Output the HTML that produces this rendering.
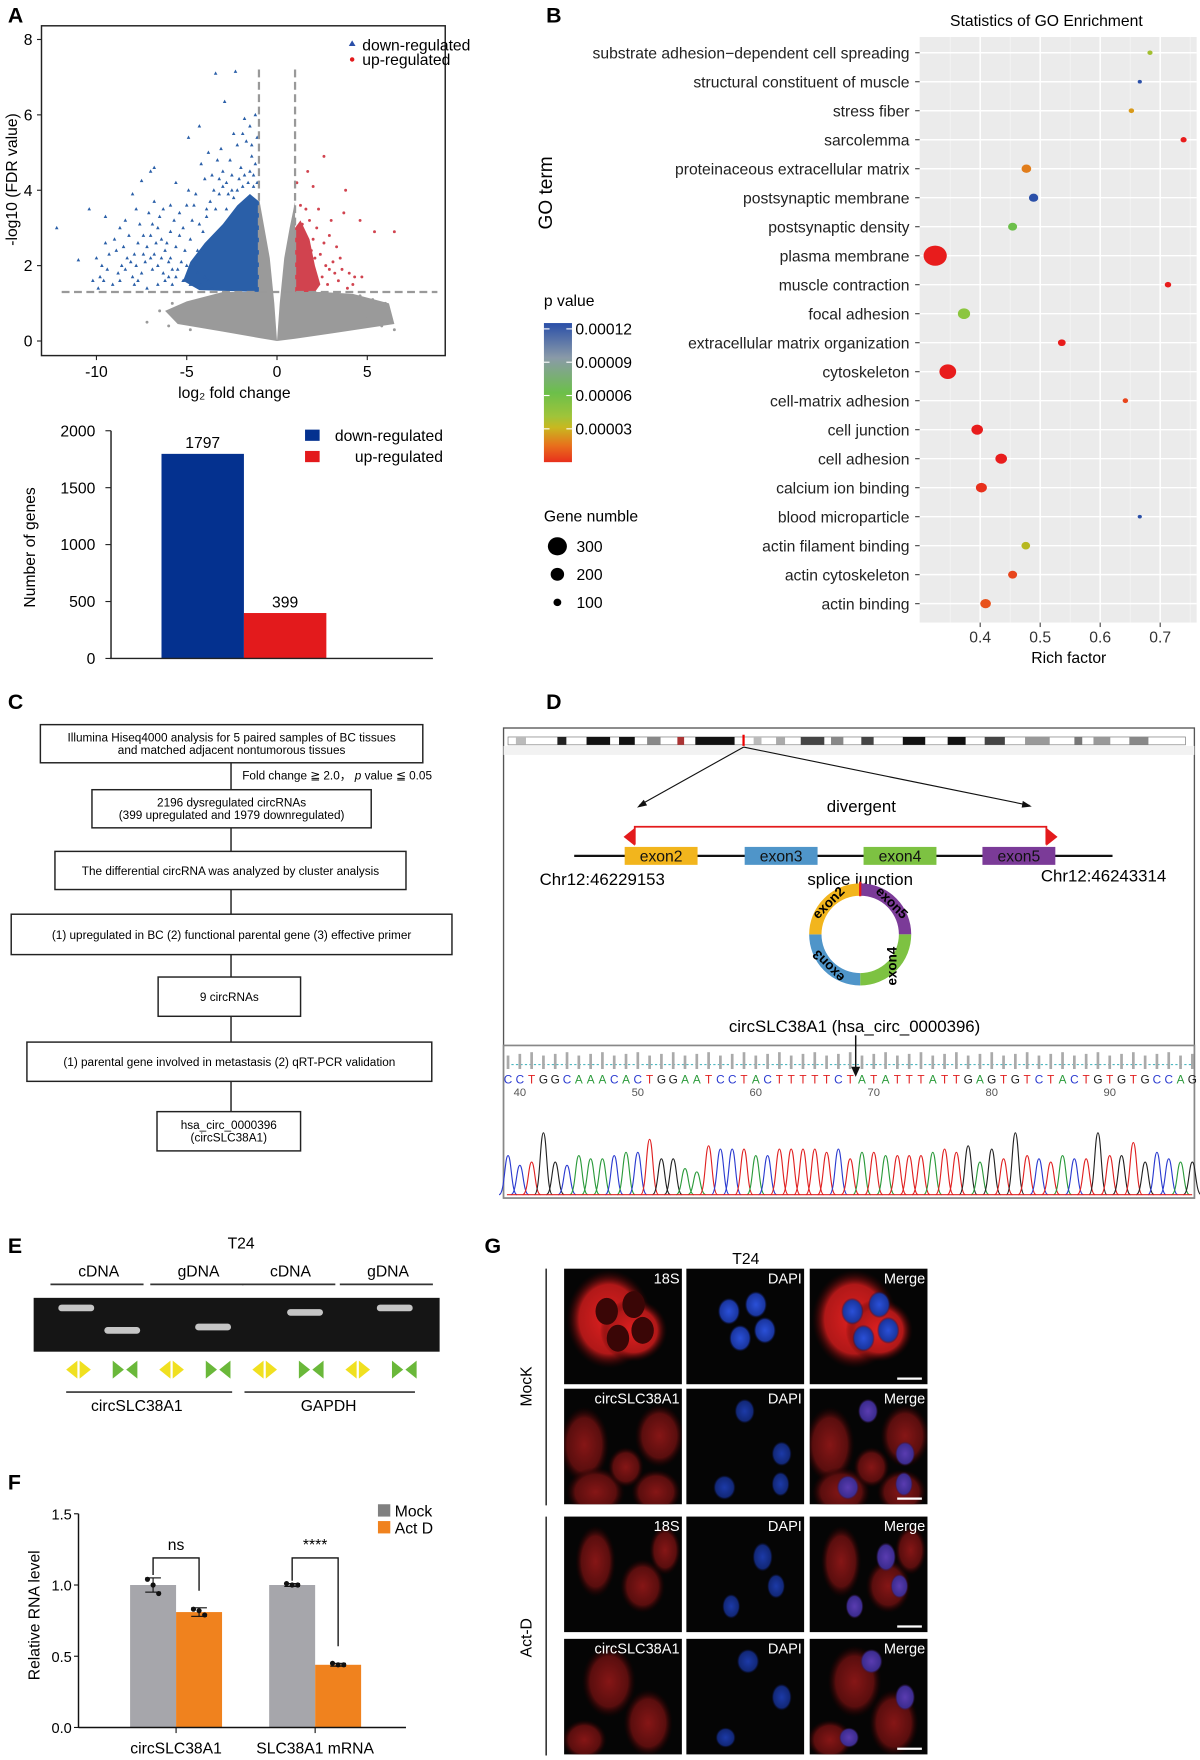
<!DOCTYPE html>
<html><head><meta charset="utf-8"><title>circSLC38A1 figure</title>
<style>
html,body{margin:0;padding:0;background:#fff;}
svg{display:block;font-family:"Liberation Sans",Arial,sans-serif;}
</style></head>
<body>
<svg id="fig" xmlns="http://www.w3.org/2000/svg" width="1200" height="1760" viewBox="0 0 1070 1569" preserveAspectRatio="none">
<defs>
<linearGradient id="pgrad" x1="0" y1="0" x2="0" y2="1">
<stop offset="0" stop-color="#2a4fa8"/><stop offset="0.25" stop-color="#8a9aa8"/><stop offset="0.5" stop-color="#6cbf4a"/><stop offset="0.67" stop-color="#9fc43a"/><stop offset="0.75" stop-color="#c8b820"/><stop offset="0.88" stop-color="#e8701c"/><stop offset="1" stop-color="#e8301c"/>
</linearGradient>
<radialGradient id="redcell"><stop offset="0" stop-color="#e02020"/><stop offset="0.7" stop-color="#b01818"/><stop offset="1" stop-color="#300000" stop-opacity="0"/></radialGradient>
<radialGradient id="dimcell"><stop offset="0" stop-color="#861616"/><stop offset="0.7" stop-color="#5a0e0e"/><stop offset="1" stop-color="#200000" stop-opacity="0"/></radialGradient>
<radialGradient id="bluenuc"><stop offset="0" stop-color="#2a50d8"/><stop offset="0.8" stop-color="#1a36a0"/><stop offset="1" stop-color="#0a1040" stop-opacity="0"/></radialGradient>
<radialGradient id="dimnuc"><stop offset="0" stop-color="#1c3aa8"/><stop offset="0.8" stop-color="#122878"/><stop offset="1" stop-color="#0a1040" stop-opacity="0"/></radialGradient>
<radialGradient id="mergenuc"><stop offset="0" stop-color="#5a3cb0"/><stop offset="0.8" stop-color="#3c2c90"/><stop offset="1" stop-color="#301040" stop-opacity="0"/></radialGradient>
</defs>

<g font-weight="bold" font-size="19">
<text x="7" y="20">A</text>
<text x="487" y="20">B</text>
<text x="7" y="632">C</text>
<text x="487" y="632">D</text>
<text x="7" y="1117">E</text>
<text x="7" y="1328">F</text>
<text x="432" y="1117">G</text>
</g>

<g id="volcano"></g>
<g id="bars"></g>
<g id="go"></g>
<g id="flow"></g>
<g id="diag"></g>
<g id="gel"></g>
<g id="rna"></g>
<g id="fish"></g>
</svg>

<script>
// ===== Panel A volcano data =====
const volcanoXTicks = [-10, -5, 0, 5];
const volcanoYTicks = [0, 2, 4, 6, 8];
const downPoints = [[-12.2,3.0],[-10.4,3.5],[-9.5,3.3],[-11,2.15],[-10,2.2],[-8.7,3.0],[-8,3.9],[-7.5,4.25],[-7,4.5],[-6.8,4.6],[-6.8,3.7],[-5.6,4.2],[-4.9,5.4],[-4.3,5.7],[-2.9,6.35],[-3.4,7.1],[-2.3,7.15],[-1.8,5.9],[-1.2,6.0],[-1.1,5.4],[-1.7,5.3],[-1.5,5.7],[-3.3,4.8],[-5.0,3.6],[-4.6,3.6],[-3.9,3.5],[-9.8,1.7],[-9.6,1.6],[-8.4,1.9],[-7.7,1.6],[-7.2,2.5],[-6.4,2.7],[-6,2.1],[-5.4,2.8],[-4.9,1.7],[-7.9,2.3],[-8.2,2.8],[-9.3,2.3],[-6.6,1.5],[-5.8,1.5],[-7.4,2.8],[-7.0,2.2],[-6.9,1.9],[-8.9,2.4],[-9.1,1.5],[-6.2,2.4],[-5.7,3.2],[-5.2,3.0],[-4.5,3.9],[-4.0,4.3],[-3.6,4.4],[-2.6,4.8],[-2.2,5.2],[-1.4,4.9],[-2.5,4.4],[-3.0,4.1],[-6.5,3.3],[-7.6,3.1],[-8.6,2.0],[-9.9,1.4],[-7.2,1.4],[-6.0,1.7],[-5.5,1.9],[-8.0,1.7],[-4.2,1.5],[-3.8,1.6],[-6.7,2.6],[-5.9,2.9],[-3.2,3.9],[-2.0,4.6],[-1.3,4.4],[-2.8,3.5],[-4.7,3.2],[-4.4,2.4],[-7.1,3.4],[-8.3,2.2],[-9.0,2.7],
[-7.8,2.0],[-7.5,1.8],[-7.3,2.1],[-6.8,2.3],[-6.6,2.0],[-6.3,1.8],[-6.1,2.6],[-5.9,2.2],[-5.6,2.5],[-5.3,2.1],[-5.1,2.4],[-4.8,2.7],[-4.6,2.0],[-4.3,3.1],[-4.1,2.9],[-3.9,3.3],[-3.7,3.7],[-3.5,4.0],[-3.4,3.5],[-3.2,4.3],[-3.0,4.5],[-2.8,4.2],[-2.7,3.9],[-2.5,4.0],[-2.4,3.8],[-2.2,4.0],[-2.1,4.3],[-1.9,4.1],[-1.8,4.4],[-1.6,4.2],[-1.5,4.5],[-1.3,4.1],[-1.2,4.7],[-1.1,4.2],[-8.8,1.8],[-8.5,2.5],[-8.1,2.1],[-7.7,2.6],[-7.4,2.3],[-7.0,2.8],[-6.6,3.0],[-6.4,2.2],[-6.2,1.6],[-5.8,1.9],[-5.6,1.7],[-5.2,1.6],[-5.0,2.0],[-4.8,1.5],[-4.4,1.8],[-4.0,1.7],[-3.6,1.4],[-7.9,1.5],[-8.7,1.6],[-9.4,1.9],[-9.7,2.0],[-10.2,1.6],[-9.5,2.6],[-8.4,3.2],[-7.8,3.5],[-6.9,3.1],[-6.3,3.5],[-5.9,3.6],[-5.4,3.4],[-4.9,4.0],[-4.2,4.7],[-3.8,5.0],[-3.1,5.1],[-2.4,5.5],[-1.9,5.5],[-1.4,5.2]];
const upPoints = [[1.1,4.2],[1.7,4.5],[2,4.1],[2.6,4.9],[3.8,4.0],[3.7,3.4],[4.6,3.2],[5.4,2.9],[6.5,2.9],[3.0,3.2],[2.3,3.5],[1.6,3.5],[1.3,3.6],[2.6,2.6],[3.5,2.2],[4.0,1.8],[4.3,1.7],[4.7,1.7],[3.4,1.6],[2.9,1.9],[2.1,2.2],[2.5,1.7],[1.5,2.7],[1.9,2.4],[3.1,2.1],[2.8,1.5],[4.2,1.5],[3.9,1.4],[2.2,3.0],[1.8,3.2],[2.4,2.3],[2.7,2.0],[3.2,1.8],[3.6,1.9],[2.0,2.7],[1.4,3.1],[3.3,2.5],[2.9,2.8]];
const nsPoints = [[-7.2,0.5],[-6.5,0.8],[-5.8,1.0],[-5.2,0.6],[-4.4,0.9],[-3.6,1.1],[-2.8,0.8],[-4.8,0.3],[-6.0,0.4],[-3.2,0.4],[2.6,1.0],[3.2,0.8],[3.8,1.1],[4.4,0.9],[5.0,0.6],[5.6,0.7],[6.2,0.5],[6.5,0.3],[5.8,0.4],[4.6,1.2],[3.5,0.4],[2.9,0.3],[5.3,1.1],[6.0,1.0]];
const downDense = [[-1,1.3],[-1,3.7],[-1.5,3.9],[-2.2,3.6],[-3.0,3.1],[-4,2.6],[-4.8,2.1],[-5.2,1.6],[-4.3,1.35]];
const upDense = [[1,1.3],[1,3.0],[1.3,3.2],[1.8,2.7],[2.1,2.0],[2.4,1.5],[2.1,1.3]];
const nsLeft = [[0,0],[-0.15,1],[-0.4,2.2],[-0.7,3.0],[-1,3.8],[-1,1.3],[-3,1.3],[-5,1.05],[-6.2,0.8],[-5.5,0.45],[-3,0.25],[-1,0.08]];
const nsRight = [[0,0],[0.15,1],[0.4,2.2],[0.7,3.0],[1,3.7],[1,1.3],[2.5,1.3],[4.2,1.25],[6.2,1.0],[6.5,0.45],[3,0.2],[1,0.06]];
const fdrCut = 1.3, fcCut = 1;

// ===== Panel A bar data =====
const degCategories = ['down-regulated', 'up-regulated'];
const degCounts = [1797, 399];
const degColors = ['#04318f', '#e31a1c'];
const degTicks = [0, 500, 1000, 1500, 2000];

// ===== Panel B GO data =====
const goTerms = ['substrate adhesion\u2212dependent cell spreading','structural constituent of muscle','stress fiber','sarcolemma','proteinaceous extracellular matrix','postsynaptic membrane','postsynaptic density','plasma membrane','muscle contraction','focal adhesion','extracellular matrix organization','cytoskeleton','cell-matrix adhesion','cell junction','cell adhesion','calcium ion binding','blood microparticle','actin filament binding','actin cytoskeleton','actin binding'];
const goRich = [0.683,0.666,0.652,0.739,0.477,0.489,0.454,0.325,0.713,0.373,0.536,0.346,0.642,0.395,0.435,0.402,0.666,0.476,0.454,0.409];
const goCount = [40,25,45,55,110,105,100,320,60,150,80,220,45,140,140,130,25,95,100,125];
const goPval = [0.00004,0.00012,0.00002,0,0.000015,0.00012,0.00006,0,0,0.00005,0,0,0.000006,0,0,0.000003,0.00012,0.00003,0.000006,0.000008];
const goXTicks = [0.4, 0.5, 0.6, 0.7];
const pTicks = [0.00012, 0.00009, 0.00006, 0.00003];
const sizeLegend = [300, 200, 100];

// ===== Panel D sequence data =====
const seqBases = 'CCTGGCAAACACTGGAATCCTACTTTTTCTATATTTATTGAGTGTCTACTGTGTGCCAG'.split('');
const peakHeights = [0.6,0.45,0.5,0.95,0.5,0.45,0.6,0.55,0.55,0.6,0.65,0.65,0.85,0.55,0.55,0.4,0.35,0.75,0.7,0.7,0.7,0.6,0.6,0.7,0.7,0.7,0.7,0.65,0.7,0.55,0.65,0.65,0.6,0.6,0.6,0.6,0.65,0.7,0.65,0.75,0.5,0.7,0.55,0.95,0.6,0.55,0.5,0.6,0.55,0.55,0.95,0.6,0.6,0.8,0.5,0.65,0.55,0.5,0.5];
const seqNumbers = [40,50,60,70,80,90];

// ===== Panel E gel data =====
const gelHeaders = ['cDNA','gDNA','cDNA','gDNA'];
const gelBandX = [68, 109, 190, 272, 352];
const gelBandY = [1166, 1186, 1183, 1170, 1166];
const primerPairs = ['div','conv','div','conv','div','conv','div','conv'];

// ===== Panel F data =====
const rnaGroups = ['circSLC38A1', 'SLC38A1 mRNA'];
const mockMeans = [1.0, 1.0];
const actdMeans = [0.81, 0.44];
const mockErr = [0.05, 0.01];
const actdErr = [0.03, 0.01];
const mockPts = [[1.04,1.0,0.94],[1.01,1.0,1.0]];
const actdPts = [[0.83,0.82,0.79],[0.45,0.44,0.44]];
const rnaTicks = [0.0, 0.5, 1.0, 1.5];
const sigLabels = ['ns', '****'];

// ===== Panel G labels =====
const fishCols = ['stain', 'DAPI', 'Merge'];
const fishRows = ['18S', 'circSLC38A1', '18S', 'circSLC38A1'];

const NS = 'http://www.w3.org/2000/svg';
function mk(tag, attrs, parent, txt) {
  const e = document.createElementNS(NS, tag);
  for (const k in attrs) e.setAttribute(k, attrs[k]);
  if (txt !== undefined) e.textContent = txt;
  parent.appendChild(e);
  return e;
}
function pts(arr, fx, fy) { return arr.map(p => fx(p[0]) + ',' + fy(p[1])).join(' '); }

// ---------- A volcano ----------
(function(){
  const g = document.getElementById('volcano');
  const vx = v => 247 + v * 16.1;
  const vy = v => 304 - v * 33.6;
  let el = mk('polygon', {points: pts(nsLeft, vx, vy), fill: '#9a9a9a'}, g);
   
  el = mk('polygon', {points: pts(nsRight, vx, vy), fill: '#9a9a9a'}, g);
   
  nsPoints.forEach(p => {
    const c = mk('circle', {cx: vx(p[0]), cy: vy(p[1]), r: 1.3, fill: '#9a9a9a'}, g);
    
    
  });
  el = mk('polygon', {points: pts(downDense, vx, vy), fill: '#2a5fa8'}, g);
   
  el = mk('polygon', {points: pts(upDense, vx, vy), fill: '#d1434f'}, g);
   
  downPoints.forEach(p => {
    const x = vx(p[0]), y = vy(p[1]);
    const t = mk('polygon', {points: `${x},${y-1.8} ${x-1.6},${y+1.2} ${x+1.6},${y+1.2}`, fill: '#2a5fa8'}, g);
    
    
  });
  upPoints.forEach(p => {
    const c = mk('circle', {cx: vx(p[0]), cy: vy(p[1]), r: 1.3, fill: '#d1434f'}, g);
    
    
  });
  const dash = {stroke: '#999', 'stroke-width': 2, 'stroke-dasharray': '7,4', fill: 'none'};
  el = mk('line', Object.assign({x1: vx(-fcCut), x2: vx(-fcCut), y1: 62, y2: vy(fdrCut)}, dash), g);
   
  el = mk('line', Object.assign({x1: vx(fcCut), x2: vx(fcCut), y1: 62, y2: vy(fdrCut)}, dash), g);
   
  el = mk('line', Object.assign({x1: 55, x2: 390, y1: vy(fdrCut), y2: vy(fdrCut)}, dash), g);
   
  el = mk('rect', {x: 37, y: 23, width: 360, height: 294, fill: 'none', stroke: '#222', 'stroke-width': 1.3}, g);
   
  volcanoXTicks.forEach(t => {
    mk('line', {x1: vx(t), x2: vx(t), y1: 317, y2: 321, stroke: '#222'}, g);
    const tx = mk('text', {x: vx(t), y: 336, 'font-size': 14, 'text-anchor': 'middle'}, g, String(t));
     
  });
  volcanoYTicks.forEach(t => {
    mk('line', {x1: 33, x2: 37, y1: vy(t), y2: vy(t), stroke: '#222'}, g);
    const tx = mk('text', {x: 29, y: vy(t) + 5, 'font-size': 14, 'text-anchor': 'end'}, g, String(t));
     
  });
  el = mk('text', {x: 209, y: 355, 'font-size': 14, 'text-anchor': 'middle'}, g, 'log\u2082 fold change');
   
  el = mk('text', {x: 0, y: 0, 'font-size': 14, 'text-anchor': 'middle', transform: 'translate(15,160) rotate(-90)'}, g, '-log10 (FDR value)');
   
  mk('polygon', {points: '314,36 311,41 317,41', fill: '#2a4fa8'}, g);
  el = mk('text', {x: 323, y: 45, 'font-size': 14}, g, 'down-regulated');
   
  mk('circle', {cx: 314, cy: 53, r: 2, fill: '#e31a1c'}, g);
  el = mk('text', {x: 323, y: 58, 'font-size': 14}, g, 'up-regulated');
   
})();

// ---------- A bars ----------
(function(){
  const g = document.getElementById('bars');
  const by = v => 587 - v * 0.1015;
  const barX = i => 144 + i * 73.5;
  degCounts.forEach((v, i) => {
    const r = mk('rect', {x: barX(i), y: by(v), width: 73.5, height: by(0) - by(v), fill: degColors[i]}, g);
    
    
    const t = mk('text', {x: barX(i) + 36.75, y: by(v) - 5, 'font-size': 14, 'text-anchor': 'middle'}, g, String(v));
    
    
  });
  let el = mk('line', {x1: 99, x2: 99, y1: by(2000), y2: by(0), stroke: '#222', 'stroke-width': 1.3}, g);
   
  el = mk('line', {x1: 98, x2: 386, y1: by(0), y2: by(0), stroke: '#222', 'stroke-width': 1.3}, g);
   
  degTicks.forEach(t => {
    mk('line', {x1: 94, x2: 99, y1: by(t), y2: by(t), stroke: '#222'}, g);
    const tx = mk('text', {x: 85, y: by(t) + 5, 'font-size': 14, 'text-anchor': 'end'}, g, String(t));
     
  });
  el = mk('text', {x: 0, y: 0, 'font-size': 14, 'text-anchor': 'middle', transform: 'translate(31,488) rotate(-90)'}, g, 'Number of genes');
   
  degCategories.forEach((c, i) => {
    mk('rect', {x: 272, y: 383 + i * 19, width: 13, height: 10, fill: degColors[i]}, g);
    const tx = mk('text', {x: 395, y: 393 + i * 19, 'font-size': 14, 'text-anchor': 'end'}, g, c);
     
  });
})();

// ---------- B GO ----------
function pColor(p) {
  const stops = [[0,[232,28,28]],[0.00001,[232,96,28]],[0.00002,[217,154,26]],[0.00003,[183,184,32]],[0.00005,[140,198,63]],[0.00006,[108,191,74]],[0.00009,[138,154,168]],[0.00012,[42,79,168]]];
  for (let i = 0; i < stops.length - 1; i++) {
    const a = stops[i], b = stops[i+1];
    if (p <= b[0]) {
      const f = (p - a[0]) / (b[0] - a[0]);
      const c = a[1].map((v, k) => Math.round(v + (b[1][k] - v) * f));
      return `rgb(${c[0]},${c[1]},${c[2]})`;
    }
  }
  return 'rgb(42,79,168)';
}
(function(){
  const g = document.getElementById('go');
  const gx = v => 874 + (v - 0.4) * 535;
  const gy = i => 47 + i * 25.85;
  const gr = n => 1 + n / 40;
  let el = mk('rect', {x: 820, y: 33, width: 247, height: 522, fill: '#ebebeb'}, g);
   
  [0.35, 0.45, 0.55, 0.65, 0.75].forEach(t => mk('line', {x1: gx(t), x2: gx(t), y1: 33, y2: 555, stroke: '#f7f7f7', 'stroke-width': 0.6}, g));
  goXTicks.forEach(t => mk('line', {x1: gx(t), x2: gx(t), y1: 33, y2: 555, stroke: '#fff', 'stroke-width': 1.3}, g));
  goTerms.forEach((t, i) => {
    mk('line', {x1: 820, x2: 1067, y1: gy(i), y2: gy(i), stroke: '#fff', 'stroke-width': 1.3}, g);
    mk('line', {x1: 816, x2: 820, y1: gy(i), y2: gy(i), stroke: '#444'}, g);
    const tx = mk('text', {x: 811, y: gy(i) + 5, 'font-size': 14, 'text-anchor': 'end', fill: '#222'}, g, t);
     
  });
  goTerms.forEach((t, i) => {
    const c = mk('ellipse', {cx: gx(goRich[i]), cy: gy(i), rx: gr(goCount[i]) * 1.15, ry: gr(goCount[i]), fill: pColor(goPval[i])}, g);
    
    
  });
  goXTicks.forEach(t => {
    mk('line', {x1: gx(t), x2: gx(t), y1: 555, y2: 559, stroke: '#444'}, g);
    const tx = mk('text', {x: gx(t), y: 573, 'font-size': 14, 'text-anchor': 'middle', fill: '#333'}, g, t.toFixed(1));
     
  });
  el = mk('text', {x: 953, y: 591, 'font-size': 14, 'text-anchor': 'middle'}, g, 'Rich factor');
   
  el = mk('text', {x: 933, y: 23, 'font-size': 14, 'text-anchor': 'middle'}, g, 'Statistics of GO Enrichment');
   
  el = mk('text', {x: 0, y: 0, 'font-size': 17, 'text-anchor': 'middle', transform: 'translate(492,172) rotate(-90)'}, g, 'GO term');
   
  el = mk('text', {x: 485, y: 273, 'font-size': 14}, g, 'p value');
   
  el = mk('rect', {x: 485, y: 288, width: 25, height: 124, fill: 'url(#pgrad)'}, g);
   
  const py = p => 412 - p / 0.00003 * 29.7;
  pTicks.forEach(p => {
    mk('line', {x1: 485, x2: 490, y1: py(p), y2: py(p), stroke: '#fff'}, g);
    mk('line', {x1: 505, x2: 510, y1: py(p), y2: py(p), stroke: '#fff'}, g);
    const tx = mk('text', {x: 513, y: py(p) + 5, 'font-size': 14}, g, p.toFixed(5));
     
  });
  el = mk('text', {x: 485, y: 465, 'font-size': 14}, g, 'Gene numble');
   
  sizeLegend.forEach((n, i) => {
    mk('ellipse', {cx: 497, cy: 487 + i * 25, rx: gr(n) * 1.0, ry: gr(n) * 0.95, fill: '#000'}, g);
    const tx = mk('text', {x: 514, y: 492 + i * 25, 'font-size': 14}, g, String(n));
     
  });
})();

// ---------- C flowchart ----------
(function(){
  const g = document.getElementById('flow');
  const boxes = [
    [36,646,341,34,['Illumina Hiseq4000 analysis for 5 paired samples of BC tissues','and matched adjacent nontumorous tissues'],'step-sequencing'],
    [82,704,249,34,['2196 dysregulated circRNAs','(399 upregulated and 1979 downregulated)'],'step-dysregulated'],
    [49,759,313,34,['The differential circRNA was analyzed by cluster analysis'],'step-cluster'],
    [10,815,393,36,['(1) upregulated in BC   (2) functional parental gene   (3) effective primer'],'step-filter'],
    [141,871,127,35,['9 circRNAs'],'step-nine'],
    [24,929,361,35,['(1) parental gene involved in metastasis  (2) qRT-PCR validation'],'step-validation'],
    [140,991,128,35,['hsa_circ_0000396','(circSLC38A1)'],'step-final']
  ];
  mk('line', {x1: 206, x2: 206, y1: 680, y2: 991, stroke: '#222', 'stroke-width': 1.3}, g);
  boxes.forEach(b => {
    const r = mk('rect', {x: b[0], y: b[1], width: b[2], height: b[3], fill: '#fff', stroke: '#222', 'stroke-width': 1.3}, g);
    
    
    const cx = b[0] + b[2] / 2, cy = b[1] + b[3] / 2;
    b[4].forEach((l, i) => {
      const yy = b[4].length === 1 ? cy + 4 : cy - 2 + i * 11;
      mk('text', {x: cx, y: yy, 'font-size': 10.5, 'text-anchor': 'middle'}, g, l);
    });
  });
  const t = mk('text', {x: 216, y: 695, 'font-size': 10.5}, g, 'Fold change \u2267 2.0\uff0c ');
  mk('tspan', {'font-style': 'italic'}, t, 'p');
  mk('tspan', {}, t, ' value \u2266 0.05');
   
})();

// ---------- D diagram ----------
(function(){
  const g = document.getElementById('diag');
  let el = mk('rect', {x: 449, y: 649, width: 616, height: 419, fill: '#fff', stroke: '#555', 'stroke-width': 1.2}, g);
   
  el = mk('rect', {x: 453, y: 657, width: 604, height: 7, fill: '#fff', stroke: '#777', 'stroke-width': 0.6}, g);
   
  const bands = [[460,469,'#bbb'],[497,505,'#222'],[523,544,'#111'],[552,566,'#111'],[577,589,'#888'],[604,610,'#a33'],[620,655,'#111'],[672,679,'#bbb'],[692,700,'#aaa'],[714,735,'#444'],[741,752,'#888'],[768,779,'#444'],[805,825,'#111'],[845,861,'#111'],[878,896,'#444'],[914,936,'#999'],[958,965,'#777'],[975,990,'#999'],[1007,1024,'#888']];
  bands.forEach(b => mk('rect', {x: b[0], y: 657, width: b[1]-b[0], height: 7, fill: b[2]}, g));
  mk('rect', {x: 662, y: 655, width: 2, height: 10, fill: '#e00'}, g);
  mk('rect', {x: 449, y: 665, width: 616, height: 8, fill: '#f2f2f2'}, g);
  mk('line', {x1: 663, y1: 666, x2: 570, y2: 718, stroke: '#111'}, g);
  mk('polygon', {points: '568,720 574,713 577,718', fill: '#111'}, g);
  mk('line', {x1: 663, y1: 666, x2: 918, y2: 718, stroke: '#111'}, g);
  mk('polygon', {points: '920,719 912,714 911,720', fill: '#111'}, g);
  el = mk('text', {x: 768, y: 724, 'font-size': 15, 'text-anchor': 'middle'}, g, 'divergent');
   
  mk('polyline', {points: '566,753 566,737 933,737 933,753', fill: 'none', stroke: '#e31a1c', 'stroke-width': 1.6}, g);
  mk('polygon', {points: '556,746 566,738 566,754', fill: '#e31a1c'}, g);
  mk('polygon', {points: '943,746 933,738 933,754', fill: '#e31a1c'}, g);
  mk('line', {x1: 512, x2: 992, y1: 763, y2: 763, stroke: '#111', 'stroke-width': 2}, g);
  const exons = [['exon2',557,'#f2b51d'],['exon3',664,'#4f95c9'],['exon4',770,'#7dc242'],['exon5',876,'#7b3b98']];
  exons.forEach(e => {
    const r = mk('rect', {x: e[1], y: 755, width: 65, height: 16, fill: e[2]}, g);
    
    
    mk('text', {x: e[1] + 32.5, y: 768, 'font-size': 14, 'text-anchor': 'middle', fill: '#111'}, g, e[0]);
  });
  mk('text', {x: 537, y: 789, 'font-size': 15, 'text-anchor': 'middle'}, g, 'Chr12:46229153');
  mk('text', {x: 984, y: 786, 'font-size': 15, 'text-anchor': 'middle'}, g, 'Chr12:46243314');
  mk('text', {x: 767, y: 789, 'font-size': 15, 'text-anchor': 'middle'}, g, 'splice junction');
  const cx = 767, cy = 833, R = 40;
  const arc = (a0, a1) => {
    const p = a => [cx + R * Math.sin(a * Math.PI / 180), cy - R * Math.cos(a * Math.PI / 180)];
    const s = p(a0), e = p(a1);
    return `M${s[0]},${s[1]} A${R},${R} 0 0 1 ${e[0]},${e[1]}`;
  };
  [['#7b3b98',0,90],['#7dc242',90,180],['#4f95c9',180,270],['#f2b51d',270,360]].forEach(a => {
    const p = mk('path', {d: arc(a[1], a[2]), fill: 'none', stroke: a[0], 'stroke-width': 11}, g);
    
    
  });
  mk('line', {x1: 767, x2: 767, y1: 786, y2: 799, stroke: '#e31a1c', 'stroke-width': 2}, g);
  [['exon5',45,45],['exon4',135,-45],['exon3',225,-135],['exon2',315,-45]].forEach(l => {
    const a = l[1] * Math.PI / 180;
    const x = cx + R * Math.sin(a), y = cy - R * Math.cos(a);
    const rot = l[1] === 135 ? 135 - 180 + 180 : (l[1] === 225 ? 225 - 180 + 180 : l[2]);
    mk('text', {x: x, y: y + 4, 'font-size': 12, 'font-weight': 'bold', 'text-anchor': 'middle', transform: `rotate(${l[1] === 135 ? 225 - 180 + 180 - 90 + 90 - 135 + 180 : rot} ${x} ${y})`}, g, l[0]);
  });
  el = mk('text', {x: 762, y: 920, 'font-size': 15, 'text-anchor': 'middle'}, g, 'circSLC38A1 (hsa_circ_0000396)');
   
  el = mk('rect', {x: 449, y: 932, width: 616, height: 136, fill: '#fff', stroke: '#888', 'stroke-width': 1.5}, g);
   
  mk('line', {x1: 452, x2: 1063, y1: 949, y2: 949, stroke: '#4cb7c0', 'stroke-width': 1, 'stroke-dasharray': '2,2'}, g);
  const baseColor = {A: '#2a9a3a', C: '#2a3ad0', G: '#222', T: '#e02020'};
  const sx = i => 453 + i * 10.52;
  seqBases.forEach((b, i) => {
    mk('rect', {x: sx(i) - 1.2, y: 941 - (i % 3) * 1.5, width: 2.4, height: 12 + (i % 3) * 1.5, fill: '#aaa'}, g);
    const tx = mk('text', {x: sx(i), y: 966, 'font-size': 10.5, 'text-anchor': 'middle', fill: baseColor[b]}, g, b);
    
    
    const h = peakHeights[i] * 58, base = 1065, x = sx(i);
    const p = mk('path', {d: `M${x-8},${base} C${x-3},${base} ${x-3},${base-h} ${x},${base-h} C${x+3},${base-h} ${x+3},${base} ${x+8},${base}`, fill: 'none', stroke: baseColor[b], 'stroke-width': 1}, g);
    
    
  });
  mk('line', {x1: 452, x2: 1063, y1: 1065, y2: 1065, stroke: '#e02020', 'stroke-width': 1}, g);
  seqNumbers.forEach((n, k) => {
    const tx = mk('text', {x: sx(1 + k * 10), y: 977, 'font-size': 10, 'text-anchor': 'middle', fill: '#555'}, g, String(n));
     
  });
  mk('line', {x1: 763, x2: 763, y1: 923, y2: 955, stroke: '#111', 'stroke-width': 1.3}, g);
  mk('polygon', {points: '763,960 759,951 767,951', fill: '#111'}, g);
})();

// ---------- E gel ----------
(function(){
  const g = document.getElementById('gel');
  let el = mk('text', {x: 215, y: 1113, 'font-size': 14, 'text-anchor': 'middle'}, g, 'T24');
   
  const hx = [88, 177, 259, 346];
  gelHeaders.forEach((h, i) => {
    const tx = mk('text', {x: hx[i], y: 1138, 'font-size': 14, 'text-anchor': 'middle'}, g, h);
     
    mk('line', {x1: hx[i] - 43, x2: hx[i] + 40, y1: 1145, y2: 1145, stroke: '#333', 'stroke-width': 1.5}, g);
  });
  el = mk('rect', {x: 30, y: 1157, width: 362, height: 48, fill: '#151515'}, g);
   
  gelBandX.forEach((x, i) => {
    const b = mk('rect', {x: x - 16, y: gelBandY[i] - 3, width: 32, height: 6, rx: 3, fill: '#d8d8d8', opacity: 0.9}, g);
    
    
  });
  primerPairs.forEach((p, i) => {
    const cx = 70 + i * 41.5, y = 1221;
    const col = p === 'div' ? '#f0e020' : '#6ab83a';
    if (p === 'div') {
      mk('polygon', {points: `${cx-1},${y-8} ${cx-1},${y+8} ${cx-11},${y}`, fill: col}, g);
      mk('polygon', {points: `${cx+1},${y-8} ${cx+1},${y+8} ${cx+11},${y}`, fill: col}, g);
    } else {
      mk('polygon', {points: `${cx-11},${y-8} ${cx-11},${y+8} ${cx-1},${y}`, fill: col}, g);
      mk('polygon', {points: `${cx+11},${y-8} ${cx+11},${y+8} ${cx+1},${y}`, fill: col}, g);
    }
  });
  mk('line', {x1: 59, x2: 207, y1: 1241, y2: 1241, stroke: '#333', 'stroke-width': 1.5}, g);
  mk('line', {x1: 218, x2: 370, y1: 1241, y2: 1241, stroke: '#333', 'stroke-width': 1.5}, g);
  el = mk('text', {x: 122, y: 1258, 'font-size': 14, 'text-anchor': 'middle'}, g, 'circSLC38A1');
   
  el = mk('text', {x: 293, y: 1258, 'font-size': 14, 'text-anchor': 'middle'}, g, 'GAPDH');
   
})();

// ---------- F bar chart ----------
(function(){
  const g = document.getElementById('rna');
  const ry = v => 1540 - v * 127;
  const gx = i => 116 + i * 124;
  rnaGroups.forEach((name, i) => {
    const x = gx(i);
    let r = mk('rect', {x: x, y: ry(mockMeans[i]), width: 41, height: ry(0) - ry(mockMeans[i]), fill: '#a6a6ab'}, g);
    
    
    r = mk('rect', {x: x + 41, y: ry(actdMeans[i]), width: 41, height: ry(0) - ry(actdMeans[i]), fill: '#f0821e'}, g);
    
    
    [[mockMeans[i], mockErr[i], x + 20.5, mockPts[i]], [actdMeans[i], actdErr[i], x + 61.5, actdPts[i]]].forEach(s => {
      mk('line', {x1: s[2], x2: s[2], y1: ry(s[0] + s[1]), y2: ry(s[0] - s[1]), stroke: '#111'}, g);
      mk('line', {x1: s[2] - 7, x2: s[2] + 7, y1: ry(s[0] + s[1]), y2: ry(s[0] + s[1]), stroke: '#111'}, g);
      mk('line', {x1: s[2] - 7, x2: s[2] + 7, y1: ry(s[0] - s[1]), y2: ry(s[0] - s[1]), stroke: '#111'}, g);
      s[3].forEach((v, k) => {
        const d = mk('circle', {cx: s[2] - 5 + k * 5, cy: ry(v), r: 2.3, fill: '#111'}, g);
        
        
      });
    });
    const bx1 = x + 20.5, bx2 = x + 61.5, byy = ry(1.19);
    mk('polyline', {points: `${bx1},${ry(mockMeans[i]+mockErr[i]+0.02)} ${bx1},${byy} ${bx2},${byy} ${bx2},${ry(actdMeans[i]+actdErr[i]+0.12)}`, fill: 'none', stroke: '#111', 'stroke-width': 1.2}, g);
    const st = mk('text', {x: x + 41, y: byy - 7, 'font-size': 14, 'text-anchor': 'middle'}, g, sigLabels[i]);
    
    
    mk('line', {x1: x + 41, x2: x + 41, y1: 1540, y2: 1545, stroke: '#111'}, g);
    const lt = mk('text', {x: x + 41, y: 1563, 'font-size': 14, 'text-anchor': 'middle'}, g, name);
    
    
  });
  let el = mk('line', {x1: 70, x2: 70, y1: ry(1.5), y2: ry(0), stroke: '#111', 'stroke-width': 1.3}, g);
   
  el = mk('line', {x1: 70, x2: 362, y1: ry(0), y2: ry(0), stroke: '#111', 'stroke-width': 1.3}, g);
   
  rnaTicks.forEach(t => {
    mk('line', {x1: 66, x2: 70, y1: ry(t), y2: ry(t), stroke: '#111'}, g);
    const tx = mk('text', {x: 64, y: ry(t) + 5, 'font-size': 13, 'text-anchor': 'end'}, g, t.toFixed(1));
     
  });
  el = mk('text', {x: 0, y: 0, 'font-size': 14, 'text-anchor': 'middle', transform: 'translate(35,1440) rotate(-90)'}, g, 'Relative RNA level');
   
  mk('rect', {x: 337, y: 1341, width: 11, height: 11, fill: '#808080'}, g);
  el = mk('text', {x: 352, y: 1352, 'font-size': 14}, g, 'Mock');
   
  mk('rect', {x: 337, y: 1356, width: 11, height: 11, fill: '#f0821e'}, g);
  el = mk('text', {x: 352, y: 1367, 'font-size': 14}, g, 'Act D');
   
})();

// ---------- G FISH ----------
(function(){
  const g = document.getElementById('fish');
  let el = mk('text', {x: 665, y: 1127, 'font-size': 14, 'text-anchor': 'middle'}, g, 'T24');
   
  const colX = [503, 612, 722];
  const rowY = [1131, 1238, 1352, 1461];
  const cells = [
    [[40,45,38,44],[62,55,30,28]],
    [[18,50,22,34],[85,42,22,28],[28,92,26,22],[82,92,22,20],[55,70,16,18]],
    [[28,40,18,32],[70,62,20,24],[90,30,14,22]],
    [[40,38,24,32],[18,90,20,18],[75,75,22,30]]
  ];
  const nuclei = [
    [[38,38,10,12],[62,32,10,12],[48,62,10,12],[70,55,10,12]],
    [[52,20,9,11],[85,58,9,11],[34,88,10,11],[84,85,8,11]],
    [[68,36,9,13],[80,62,8,11],[40,80,8,11]],
    [[55,20,10,11],[85,52,9,12],[35,88,9,9]]
  ];
  rowY.forEach((y, r) => {
    colX.forEach((x, c) => {
      const bg = mk('rect', {x: x, y: y, width: 105, height: 103, fill: '#050505'}, g);
      
      
      const clip = 'clip' + r + '_' + c;
      const cp = mk('clipPath', {id: clip}, g);
      mk('rect', {x: x, y: y, width: 105, height: 103}, cp);
      const gg = mk('g', {'clip-path': `url(#${clip})`}, g);
      if (c !== 1) {
        cells[r].forEach(e => mk('ellipse', {cx: x + e[0], cy: y + e[1], rx: e[2], ry: e[3], fill: r === 0 ? 'url(#redcell)' : 'url(#dimcell)'}, gg));
      }
      nuclei[r].forEach(n => {
        const nucFill = r === 0 ? 'url(#bluenuc)' : 'url(#dimnuc)';
        if (c === 1) mk('ellipse', {cx: x + n[0], cy: y + n[1], rx: n[2], ry: n[3], fill: nucFill}, gg);
        else if (c === 2) mk('ellipse', {cx: x + n[0], cy: y + n[1], rx: n[2], ry: n[3], fill: r === 0 ? 'url(#bluenuc)' : 'url(#mergenuc)'}, gg);
        else if (r === 0) mk('ellipse', {cx: x + n[0], cy: y + n[1], rx: n[2], ry: n[3], fill: '#3a0606'}, gg);
      });
      const lab = c === 0 ? fishRows[r] : (c === 1 ? 'DAPI' : 'Merge');
      const tx = mk('text', {x: x + 103, y: y + 13, 'font-size': 13, 'text-anchor': 'end', fill: '#fff'}, g, lab);
      
      
      if (c === 2) mk('line', {x1: x + 78, x2: x + 100, y1: y + 98, y2: y + 98, stroke: '#fff', 'stroke-width': 2}, g);
    });
  });
  mk('line', {x1: 487, x2: 487, y1: 1131, y2: 1342, stroke: '#222', 'stroke-width': 1.3}, g);
  mk('line', {x1: 487, x2: 487, y1: 1352, y2: 1565, stroke: '#222', 'stroke-width': 1.3}, g);
  el = mk('text', {x: 0, y: 0, 'font-size': 14, 'text-anchor': 'middle', transform: 'translate(474,1236) rotate(-90)'}, g, 'MocK');
   
  el = mk('text', {x: 0, y: 0, 'font-size': 14, 'text-anchor': 'middle', transform: 'translate(474,1460) rotate(-90)'}, g, 'Act-D');
   
})();
</script>
</body></html>
